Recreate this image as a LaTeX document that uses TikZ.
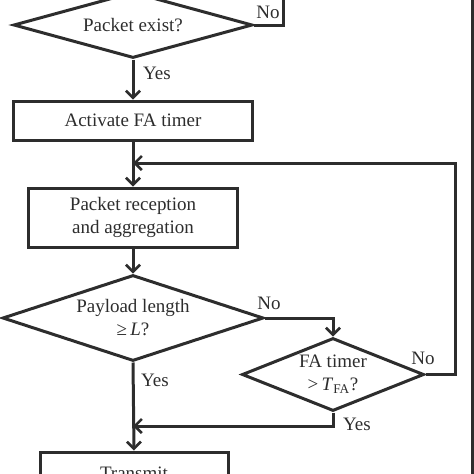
\documentclass[tikz,border=0pt]{standalone}
\usepackage{fontspec}
\setmainfont{Liberation Serif}
\usetikzlibrary{shapes.geometric,arrows.meta}
\definecolor{ink}{RGB}{45,45,45}
\begin{document}
\begin{tikzpicture}[x=1pt,y=-1pt,
  txt/.style={font=\fontsize{19}{23}\selectfont, text=ink},
  box/.style={txt, draw=ink, line width=3pt, rectangle, inner sep=0pt, align=center},
  dec/.style={txt, draw=ink, line width=3pt, diamond, inner sep=0pt, align=center},
  lab/.style={txt, inner sep=0pt},
  conn/.style={draw=ink, line width=3pt},
  arr/.style={conn, -{Straight Barb[length=7pt,width=14pt,line width=2.6pt]}}]
\useasboundingbox (0,0) rectangle (474,474);
% nodes
\node[dec, aspect=3.6, minimum width=239pt, minimum height=66pt] (d1) at (133,25) {Packet exist?};
\node[box, minimum width=239pt, minimum height=39pt] (b1) at (133,120.5) {Activate FA timer};
\node[box, minimum width=209pt, minimum height=59pt] (b2) at (133,217.5) {Packet reception\\and aggregation};
\node[dec, aspect=3, minimum width=261pt, minimum height=86pt] (d2) at (133,318) {Payload length\\≥\,\textit{L}?};
\node[dec, aspect=2.5, minimum width=182pt, minimum height=73pt] (d3) at (333,374.5) {FA timer\\\textgreater\,\textit{T}\textsubscript{FA}?};
\node[box, minimum width=188pt, minimum height=42pt] (b3) at (134,473) {Transmit};
% helper coordinates
\coordinate (topno) at (283,-10);
\coordinate (rloop) at (455,163);
\coordinate (j1) at (133,163);
\coordinate (j2) at (133,426);
\coordinate (edgetop) at (472,-10);
\coordinate (edgebot) at (472,490);
% connectors
\draw[conn] (d1.east) -| (topno);
\draw[arr] (d1.south) -- (b1.north);
\draw[arr] (b1.south) -- (b2.north);
\draw[arr] (b2.south) -- (d2.north);
\draw[arr] (d2.east) -| (d3.north);
\draw[arr] (d3.east) -| (rloop) -- (j1);
\draw[arr] (d3.south) |- (j2);
\draw[arr] (d2.south) -- (b3.north);
\draw[conn] (edgetop) -- (edgebot);
% labels
\node[lab] at (268,12) {No};
\node[lab] at (157,73) {Yes};
\node[lab] at (269,303) {No};
\node[lab] at (155,380) {Yes};
\node[lab] at (423,358) {No};
\node[lab] at (357,424) {Yes};
\end{tikzpicture}
\end{document}
